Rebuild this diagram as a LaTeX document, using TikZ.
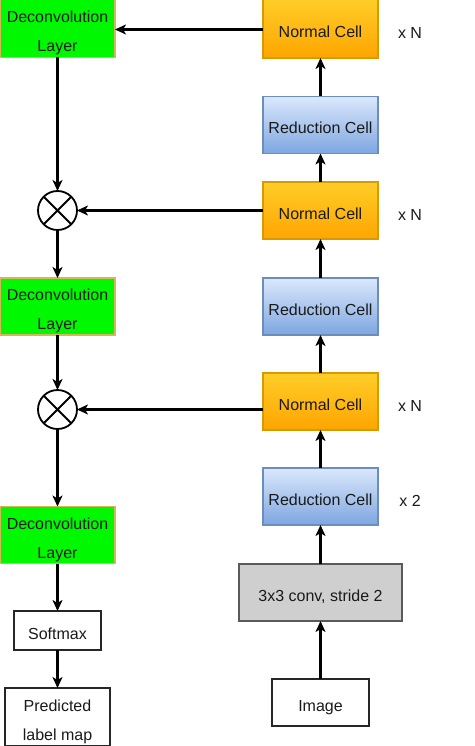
\documentclass[tikz,border=0pt]{standalone}
\usepackage{fontspec}
\setmainfont{Liberation Sans}
\usetikzlibrary{arrows.meta}
\definecolor{greenfill}{HTML}{00F800}
\definecolor{greenline}{HTML}{D6B656}
\definecolor{orangetop}{HTML}{FFCD28}
\definecolor{orangebot}{HTML}{FFA500}
\definecolor{orangeline}{HTML}{D79B00}
\definecolor{bluetop}{HTML}{DAE8FC}
\definecolor{bluebot}{HTML}{7EA6E0}
\definecolor{blueline}{HTML}{6C8EBF}
\definecolor{grayfill}{HTML}{CFCFCF}
\definecolor{grayline}{HTML}{5A5A5A}
\definecolor{txt}{HTML}{1A1A1A}
\tikzset{
  base/.style={draw, rectangle, inner sep=0pt, outer sep=0pt, text=txt,
    font=\fontsize{16}{29}\selectfont, line width=1.1pt},
  oneline/.style={base, text height=17.5pt, text depth=0pt},
  twoline/.style={base, align=center, text height=46.6pt, text depth=0pt},
  deconvbox/.style={twoline, fill=greenfill, draw=greenline, minimum width=115pt, minimum height=57pt},
  normalbox/.style={oneline, top color=orangetop, bottom color=orangebot, draw=orangeline, minimum width=115pt, minimum height=57pt},
  reductionbox/.style={oneline, top color=bluetop, bottom color=bluebot, draw=blueline, minimum width=115pt, minimum height=57pt},
  convbox/.style={oneline, fill=grayfill, draw=grayline, line width=1.4pt, minimum width=163pt, minimum height=57pt},
  plainbox/.style={draw=black!85, fill=white},
  mult/.style={draw=black, circle, line width=1.8pt, minimum size=39pt, inner sep=0pt, outer sep=0pt},
  count/.style={text=txt, font=\fontsize{16}{19}\selectfont, inner sep=0pt},
  conn/.style={line width=2.2pt, -{Stealth[length=11pt,width=10pt,inset=3pt]}},
}
\begin{document}
\begin{tikzpicture}[x=1pt,y=-1pt]
\useasboundingbox (0,0) rectangle (474,746);
% right column
\node[normalbox, minimum height=59pt] (n1) at (320.5,28.5) {Normal Cell};
\node[reductionbox] (r1) at (320.5,125) {Reduction Cell};
\node[normalbox] (n2) at (320.5,210.5) {Normal Cell};
\node[reductionbox] (r2) at (320.5,306.5) {Reduction Cell};
\node[normalbox] (n3) at (320.5,401.5) {Normal Cell};
\node[reductionbox] (r3) at (320.5,496.5) {Reduction Cell};
\node[convbox] (conv) at (320.5,592.5) {3x3 conv, stride 2};
\node[oneline, plainbox, minimum width=97pt, minimum height=47pt] (img) at (320.5,702.5) {Image};
% counts
\node[count] (k1) at (410,33) {x N};
\node[count] (k2) at (410,214.5) {x N};
\node[count] (k3) at (410,405.5) {x N};
\node[count] (k4) at (410,500.5) {x 2};
% left column
\node[deconvbox, minimum height=59pt] (d1) at (57.5,28) {Deconvolution\\Layer};
\node[mult] (c1) at (57.5,210.5) {};
\node[deconvbox] (d2) at (57.5,306.5) {Deconvolution\\Layer};
\node[mult] (c2) at (57.5,409.5) {};
\node[deconvbox] (d3) at (57.5,535) {Deconvolution\\Layer};
\node[oneline, plainbox, minimum width=87pt, minimum height=39pt] (soft) at (57.5,630.5) {Softmax};
\node[twoline, plainbox, minimum width=105pt, minimum height=58pt] (pred) at (57.5,717) {Predicted\\label map};
% crosses
\draw[line width=1.8pt] (c1.north west) -- (c1.south east) (c1.north east) -- (c1.south west);
\draw[line width=1.8pt] (c2.north west) -- (c2.south east) (c2.north east) -- (c2.south west);
% connectors right column
\draw[conn] (img) -- (conv);
\draw[conn] (conv) -- (r3);
\draw[conn] (r3) -- (n3);
\draw[conn] (n3) -- (r2);
\draw[conn] (r2) -- (n2);
\draw[conn] (n2) -- (r1);
\draw[conn] (r1) -- (n1);
% horizontal
\draw[conn] (n1.west |- 0,29.5) -- (d1.east |- 0,29.5);
\draw[conn] (n2.west) -- (c1.east);
\draw[conn] (n3.west |- c2.east) -- (c2.east);
% left column
\draw[conn] (d1) -- (c1);
\draw[conn] (c1) -- (d2);
\draw[conn] (d2) -- (c2);
\draw[conn] (c2) -- (d3);
\draw[conn] (d3) -- (soft);
\draw[conn] (soft) -- (pred);
\end{tikzpicture}
\end{document}
